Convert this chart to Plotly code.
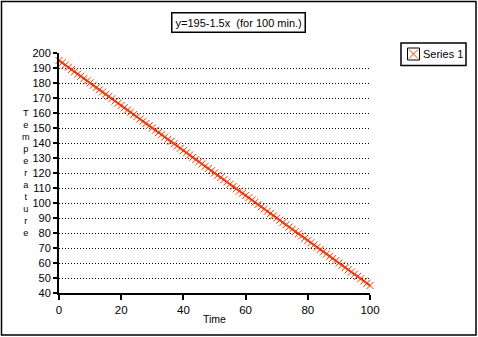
import plotly.graph_objects as go

time_min = [0, 1, 2, 3, 4, 5, 6, 7, 8, 9, 10, 11, 12, 13, 14, 15, 16, 17, 18, 19,
            20, 21, 22, 23, 24, 25, 26, 27, 28, 29, 30, 31, 32, 33, 34, 35, 36, 37, 38, 39,
            40, 41, 42, 43, 44, 45, 46, 47, 48, 49, 50, 51, 52, 53, 54, 55, 56, 57, 58, 59,
            60, 61, 62, 63, 64, 65, 66, 67, 68, 69, 70, 71, 72, 73, 74, 75, 76, 77, 78, 79,
            80, 81, 82, 83, 84, 85, 86, 87, 88, 89, 90, 91, 92, 93, 94, 95, 96, 97, 98, 99, 100]
temperature = [195, 193.5, 192, 190.5, 189, 187.5, 186, 184.5, 183, 181.5,
               180, 178.5, 177, 175.5, 174, 172.5, 171, 169.5, 168, 166.5,
               165, 163.5, 162, 160.5, 159, 157.5, 156, 154.5, 153, 151.5,
               150, 148.5, 147, 145.5, 144, 142.5, 141, 139.5, 138, 136.5,
               135, 133.5, 132, 130.5, 129, 127.5, 126, 124.5, 123, 121.5,
               120, 118.5, 117, 115.5, 114, 112.5, 111, 109.5, 108, 106.5,
               105, 103.5, 102, 100.5, 99, 97.5, 96, 94.5, 93, 91.5,
               90, 88.5, 87, 85.5, 84, 82.5, 81, 79.5, 78, 76.5,
               75, 73.5, 72, 70.5, 69, 67.5, 66, 64.5, 63, 61.5,
               60, 58.5, 57, 55.5, 54, 52.5, 51, 49.5, 48, 46.5, 45]
x_ticks = [0, 20, 40, 60, 80, 100]
y_ticks = [40, 50, 60, 70, 80, 90, 100, 110, 120, 130, 140, 150, 160, 170, 180, 190, 200]
series_name = "Series 1"
title_text = "y=195-1.5x&nbsp; (for 100 min.)"
y_title = "Temperature"
x_title = "Time"

W, H = 478, 337
L, R, T, B = 59, 108, 53, 44
PW, PH = W - L - R, H - T - B

def px(x):
    return (x - L) / PW

def py(y):
    return (H - B - y) / PH

RED = "#ff3300"
FONT = "Liberation Sans"

fig = go.Figure()
fig.add_trace(go.Scatter(
    x=time_min, y=temperature, mode="lines+markers", name=series_name,
    line=dict(color=RED, width=2),
    marker=dict(symbol="x-thin-open", size=7, line=dict(color=RED, width=1), color=RED),
    cliponaxis=False, showlegend=False,
))

fig.update_layout(
    width=W, height=H,
    margin=dict(l=L, r=R, t=T, b=B),
    paper_bgcolor="white", plot_bgcolor="white",
    font=dict(family=FONT, size=11, color="black"),
    xaxis=dict(range=[0, 100], tickvals=x_ticks, showgrid=False, zeroline=False,
               showline=True, linecolor="black", linewidth=2,
               ticks="outside", ticklen=5, tickwidth=1.5, tickcolor="black",
               tickfont=dict(size=11.5),
               title=dict(text=x_title, font=dict(size=10.5), standoff=1)),
    yaxis=dict(range=[40, 200], tickvals=y_ticks, showgrid=True, gridcolor="black",
               griddash="1px,2px", gridwidth=1, zeroline=False,
               showline=True, linecolor="black", linewidth=2,
               ticks="outside", ticklen=4, tickwidth=1.5, tickcolor="black",
               tickfont=dict(size=11)),
)

shapes = []
# outer frame
shapes.append(dict(type="rect", xref="paper", yref="paper",
                   x0=px(1.5), x1=px(476), y0=py(335), y1=py(1.5),
                   line=dict(color="black", width=1.5), fillcolor="rgba(0,0,0,0)"))
# legend box
shapes.append(dict(type="rect", xref="paper", yref="paper",
                   x0=px(401), x1=px(466), y0=py(65.5), y1=py(43),
                   line=dict(color="black", width=1.5), fillcolor="white"))
# legend symbol square
shapes.append(dict(type="rect", xref="paper", yref="paper",
                   x0=px(407.5), x1=px(419.5), y0=py(60), y1=py(48),
                   line=dict(color="black", width=1), fillcolor="white"))
shapes.append(dict(type="line", xref="paper", yref="paper",
                   x0=px(409), x1=px(418), y0=py(49.5), y1=py(58.5),
                   line=dict(color=RED, width=1)))
shapes.append(dict(type="line", xref="paper", yref="paper",
                   x0=px(409), x1=px(418), y0=py(58.5), y1=py(49.5),
                   line=dict(color=RED, width=1)))
fig.update_layout(shapes=shapes)

anns = []
anns.append(dict(text=title_text, xref="paper", yref="paper", x=px(238), y=py(22),
                 xanchor="center", yanchor="middle", showarrow=False,
                 font=dict(size=11), bordercolor="black", borderwidth=1.5, borderpad=3,
                 bgcolor="white"))
anns.append(dict(text=series_name, xref="paper", yref="paper", x=px(421), y=py(54.5),
                 xanchor="left", yanchor="middle", showarrow=False, font=dict(size=11)))
anns.append(dict(text="<br>".join(list(y_title)), xref="paper", yref="paper",
                 x=px(26), y=py(173), xanchor="center", yanchor="middle",
                 showarrow=False, font=dict(size=9.2)))
fig.update_layout(annotations=anns)

fig.write_html("out.html")
